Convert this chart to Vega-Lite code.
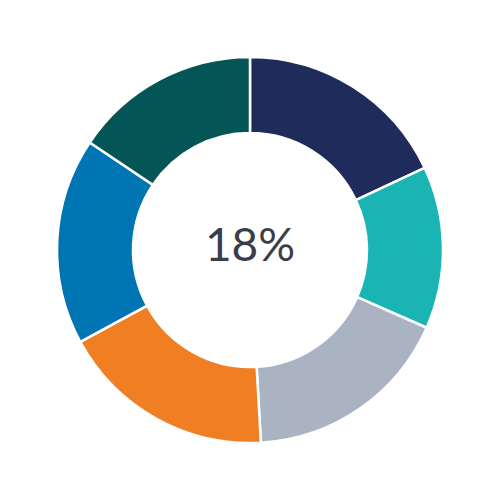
{
  "$schema": "https://vega.github.io/schema/vega-lite/v6.json",
  "width": 500,
  "height": 500,
  "padding": 0,
  "autosize": {"type": "fit", "contains": "padding"},
  "background": "white",
  "data": {
    "values": [
      {"segment": "A", "order": 1, "share": 18.0},
      {"segment": "B", "order": 2, "share": 13.6},
      {"segment": "C", "order": 3, "share": 17.5},
      {"segment": "D", "order": 4, "share": 18.0},
      {"segment": "E", "order": 5, "share": 17.3},
      {"segment": "F", "order": 6, "share": 15.6}
    ]
  },
  "layer": [
    {
      "mark": {"type": "arc", "radius": 193, "innerRadius": 117, "stroke": "white", "strokeWidth": 2.5},
      "encoding": {
        "theta": {"field": "share", "type": "quantitative", "stack": true},
        "order": {"field": "order", "type": "quantitative"},
        "color": {
          "field": "segment",
          "type": "nominal",
          "legend": null,
          "scale": {
            "domain": ["A", "B", "C", "D", "E", "F"],
            "range": ["#1e2b5b", "#1bb4b4", "#a9b3c1", "#f07e22", "#0075b3", "#045656"]
          }
        }
      }
    },
    {
      "data": {"values": [{"label": "18%"}]},
      "mark": {"type": "text", "font": "Lato", "fontSize": 46, "color": "#3b3e48", "align": "center", "baseline": "middle", "dy": -3},
      "encoding": {
        "text": {"field": "label", "type": "nominal"}
      }
    }
  ]
}
